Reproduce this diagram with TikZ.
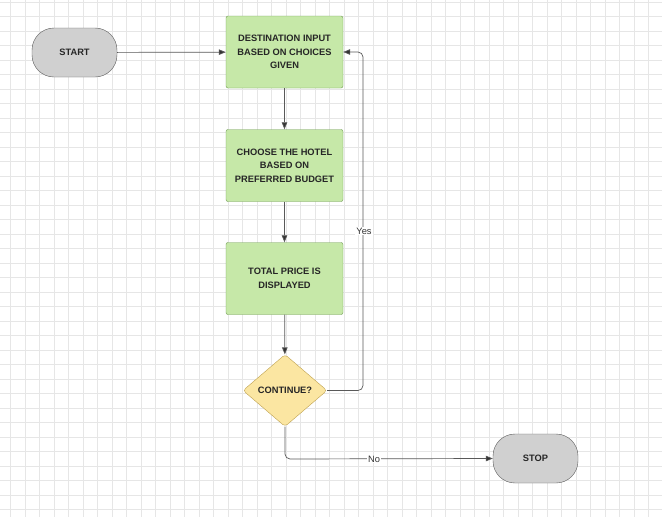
\documentclass[tikz,border=0pt]{standalone}
\usepackage{fontspec}
\setmainfont{Liberation Sans}
\usetikzlibrary{shapes.geometric,arrows.meta}
\definecolor{boxg}{HTML}{C6E8A8}
\definecolor{boxgd}{HTML}{6E9A50}
\definecolor{term}{HTML}{D0D0D0}
\definecolor{termd}{HTML}{5E5E5E}
\definecolor{dia}{HTML}{FBE6A2}
\definecolor{diad}{HTML}{BFA250}
\definecolor{gridc}{HTML}{E6E6E6}
\begin{document}
\begin{tikzpicture}[x=1pt,y=-1pt,
  proc/.style={draw=boxgd,fill=boxg,rounded corners=2pt,minimum width=117pt,minimum height=72pt,align=center,font=\bfseries\fontsize{9.3}{13.5}\selectfont,text=black!85},
  termn/.style={draw=termd,fill=term,rounded corners=22pt,minimum width=85pt,minimum height=49pt,font=\bfseries\fontsize{9.3}{11}\selectfont,text=black!85},
  dec/.style={draw=diad,fill=dia,diamond,rounded corners=3pt,minimum width=84pt,minimum height=72pt,inner sep=0pt,font=\bfseries\fontsize{9.3}{11}\selectfont,text=black!85},
  conn/.style={draw=black!65,line width=0.7pt,rounded corners=5pt},
  arr/.style={conn,-{Triangle[length=7pt,width=5.5pt,fill=black!80]}},
  lab/.style={fill=white,inner sep=1pt,font=\fontsize{9.3}{11}\selectfont,text=black!80}]
\useasboundingbox (0,0) rectangle (662,517);
\fill[white] (0,0) rectangle (662,517);
\foreach \i in {0,...,46} \draw[gridc,line width=0.4pt] (\i*14.5-4,0) -- (\i*14.5-4,517);
\foreach \j in {0,...,36} \draw[gridc,line width=0.4pt] (0,\j*14.5+2) -- (662,\j*14.5+2);
\node[termn] (start) at (74.5,52.5) {START};
\node[proc] (b1) at (284.5,52) {DESTINATION INPUT\\BASED ON CHOICES\\GIVEN};
\node[proc] (b2) at (284.5,165.5) {CHOOSE THE HOTEL\\BASED ON\\PREFERRED BUDGET};
\node[proc] (b3) at (284.5,278.5) {TOTAL PRICE IS\\DISPLAYED};
\node[dec] (d) at (285,390.5) {CONTINUE?};
\node[termn] (stop) at (535.5,458.5) {STOP};
\coordinate (yc) at (363,390.5);
\coordinate (yt) at (363,52);
\coordinate (nc) at (285,459);
\draw[arr] (start) -- (b1);
\draw[arr] (b1) -- (b2);
\draw[arr] (b2) -- (b3);
\draw[arr] (b3) -- (d);
\draw[arr] (d.east) -- (yc) -- (yt) -- (b1.east);
\draw[arr] (d.south) -- (nc) -- (stop.west);
\node[lab] (yes) at (364,231) {Yes};
\node[lab] (no) at (374,459) {No};
\end{tikzpicture}
\end{document}
